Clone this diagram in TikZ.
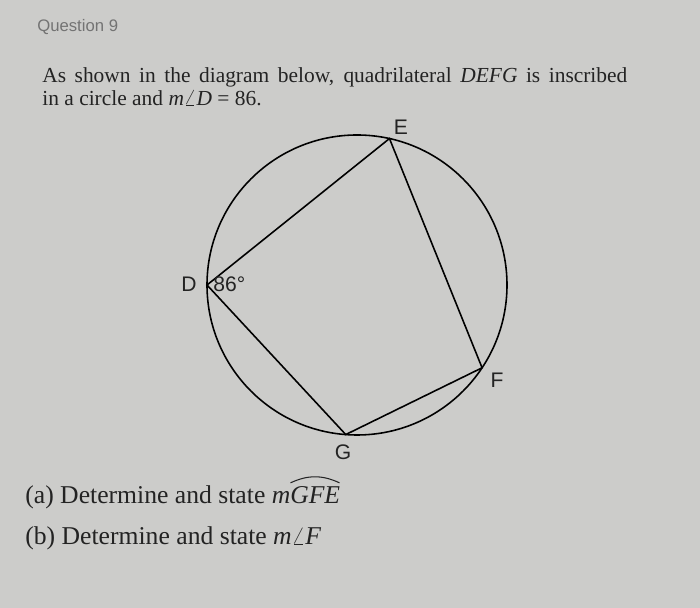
\documentclass[tikz,border=0pt]{standalone}
\usepackage{fontspec}
\setmainfont{Liberation Serif}
\setsansfont{Liberation Sans}
\usetikzlibrary{calc}
\definecolor{screen}{RGB}{204,204,202}
\definecolor{ink}{RGB}{35,35,35}
\tikzset{
	ptlabel/.style={font=\sffamily\fontsize{12}{13}\selectfont, text=ink, inner sep=0pt},
	bodytext/.style={font=\fontsize{12.2}{13.2}\selectfont, text=ink, inner sep=0pt},
	asktext/.style={font=\fontsize{14.6}{15}\selectfont, text=ink, inner sep=0pt, anchor=base west},
}

\begin{document}
\begin{tikzpicture}[x=0.02cm, y=0.02cm]
		%%%%% START %%%%%
		
		\fill[screen] (0, 0) rectangle (700, 608);
		\useasboundingbox (0, 0) rectangle (700, 608);
		
		\node[anchor=base west, inner sep=0pt, text=black!55, font=\sffamily\fontsize{9.5}{10}\selectfont] (title) at (37, 576) {Question 9};
		
		\node[bodytext, anchor=north west, text width=333pt, align=justify] (intro) at (42, 541)
			{As shown in the diagram below, quadrilateral \textit{DEFG} is inscribed\linebreak
			in a circle and \textit{m}$\angle$\textit{D} = 86.};
		
		\coordinate (O) at (357, 323);
		\draw[line width=0.9pt] (O) circle (150);
		
		\coordinate (E) at ($(O)+(77.5:150)$);
		\coordinate (D) at ($(O)+(180:150)$);
		\coordinate (F) at ($(O)+(-33.5:150)$);
		\coordinate (G) at ($(O)+(-94.3:150)$);
		
		\draw[line width=0.9pt] (D) -- (E) -- (F) -- (G) -- cycle;
		
		\node[ptlabel] (labE) at (401, 481) {E};
		\node[ptlabel] (labD) at (189, 324) {D};
		\node[ptlabel] (labF) at (497, 228) {F};
		\node[ptlabel] (labG) at (343, 156) {G};
		\node[ptlabel, anchor=west] (ang) at (213, 324) {86°};
		
		\node[asktext] (qa) at (25, 104) {(a) Determine and state \textit{mGFE}};
		\draw[line width=0.6pt, ink] ($(qa.north east)+(-50, 3)$) to[bend left=25] ($(qa.north east)+(-1, 3)$);
		\node[asktext] (qb) at (25, 63) {(b) Determine and state \textit{m}$\angle$\textit{F}};
		
		%%%%% END %%%%%
	\end{tikzpicture}
\end{document}
